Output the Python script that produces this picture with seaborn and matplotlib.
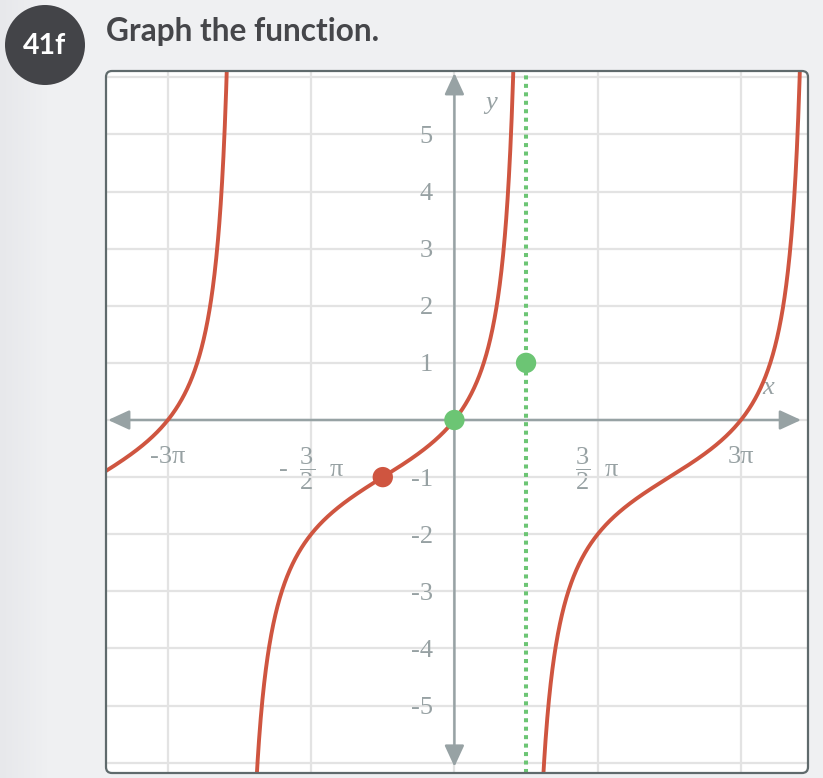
import numpy as np
import pandas as pd
import matplotlib
matplotlib.use("Agg")
import matplotlib.pyplot as plt
import seaborn as sns
from matplotlib.patches import FancyBboxPatch, Circle
from matplotlib.transforms import IdentityTransform
from matplotlib.ticker import FixedLocator, FixedFormatter

PI = np.pi

# ---- values ----
# graphed function: y = tan((x - center_x) / (period / pi)) + center_y
center_x = [-3 * PI / 4]
center_y = [-1]
period = [3 * PI]
branch_ids = [-1, 0, 1]
green_x = [0, 3 * PI / 4]
green_y = [0, 1]
asymptote_x = [3 * PI / 4]

x_major_ticks = [-3 * PI, -1.5 * PI, 0, 1.5 * PI, 3 * PI]
x_major_labels = ["-3π", r"-  $\dfrac{3}{2}$  π", "", r"$\dfrac{3}{2}$  π", "3π"]
x_minor_ticks = [k * 3 * PI / 8 for k in range(-8, 9) if k % 4 != 0]
y_major_ticks = [-5, -4, -3, -2, -1, 0, 1, 2, 3, 4, 5]
y_major_labels = ["-5", "-4", "-3", "-2", "-1", "", "1", "2", "3", "4", "5"]
y_minor_ticks = [-6, 6]
x_limits = (-11.46, 11.63)
y_limits = (-6.18, 6.11)

# ---- curve table built from the function above ----
rows = []
for k in branch_ids:
    lim = np.arctan(14.0)
    u = np.linspace(-lim, lim, 800) + k * PI
    xs = center_x[0] + (period[0] / PI) * u
    ys = np.tan(u) + center_y[0]
    rows.append(pd.DataFrame({"x": xs, "y": ys, "branch": k}))
curve = pd.concat(rows, ignore_index=True)

# ---- style ----
sns.set_style("white")
plt.rcParams["font.family"] = ["Liberation Serif", "DejaVu Serif"]
plt.rcParams["mathtext.fontset"] = "custom"
plt.rcParams["mathtext.rm"] = "Liberation Serif"
plt.rcParams["mathtext.it"] = "Liberation Serif:italic"
plt.rcParams["mathtext.bf"] = "Liberation Serif:bold"

BG = "#eff0f2"
AXIS_GRAY = "#97a2a4"
LABEL_GRAY = "#97a1a3"
GRID = "#e3e3e3"
RED = "#cf5540"
GREEN = "#6cc574"
FRAME = "#5f6a6c"

W, H = 823, 778
fig = plt.figure(figsize=(W / 100, H / 100), dpi=100, facecolor=BG)

# subtle left gradient strip
grad_w = 48
g = np.linspace(0.0, 1.0, grad_w)
c0 = np.array([231, 232, 235]) / 255.0
c1 = np.array([239, 240, 242]) / 255.0
strip = (c0[None, :] * (1 - g[:, None]) + c1[None, :] * g[:, None])
strip = np.tile(strip[None, :, :], (H, 1, 1))
fig.figimage(strip, xo=0, yo=0, zorder=-3)

# plot panel background (rounded)
left_px, top_px, right_px, bottom_px = 106, 71, 808, 773
panel_bg = FancyBboxPatch((left_px, H - bottom_px), right_px - left_px, bottom_px - top_px,
                          boxstyle="round,pad=0,rounding_size=6", transform=IdentityTransform(),
                          facecolor="white", edgecolor="none", zorder=-1)
fig.add_artist(panel_bg)

ax = fig.add_axes([left_px / W, 1 - bottom_px / H, (right_px - left_px) / W, (bottom_px - top_px) / H])
ax.patch.set_visible(False)
ax.set_xlim(*x_limits)
ax.set_ylim(*y_limits)

# curve
sns.lineplot(data=curve, x="x", y="y", units="branch", estimator=None, sort=False,
             color=RED, lw=2.8, ax=ax, zorder=4, legend=False)

# asymptote (dotted green)
for xa in asymptote_x:
    ax.axvline(xa, color=GREEN, lw=2.9, ls=(0, (1, 1.1)), dash_capstyle="butt", zorder=3.5)

# points
sns.scatterplot(x=center_x, y=center_y, s=215, color=RED, edgecolor="none", ax=ax, zorder=6)
sns.scatterplot(x=green_x, y=green_y, s=215, color=GREEN, edgecolor="none", ax=ax, zorder=6)
ax.set_xlabel("")
ax.set_ylabel("")

# axes through origin
for side in ["top", "right"]:
    ax.spines[side].set_visible(False)
ax.spines["left"].set_position(("data", 0))
ax.spines["bottom"].set_position(("data", 0))
ax.spines["left"].set_linewidth(0)
ax.spines["bottom"].set_linewidth(0)

ax.xaxis.set_major_locator(FixedLocator(x_major_ticks))
ax.xaxis.set_major_formatter(FixedFormatter(x_major_labels))
ax.xaxis.set_minor_locator(FixedLocator(x_minor_ticks))
ax.yaxis.set_major_locator(FixedLocator(y_major_ticks))
ax.yaxis.set_major_formatter(FixedFormatter(y_major_labels))
ax.yaxis.set_minor_locator(FixedLocator(y_minor_ticks))

ax.tick_params(axis="x", which="major", direction="out", length=14.5, width=1.6,
               color=AXIS_GRAY, pad=4, labelsize=19, labelcolor=LABEL_GRAY)
ax.tick_params(axis="x", which="minor", direction="out", length=8, width=1.6, color=AXIS_GRAY)
ax.tick_params(axis="y", which="major", direction="out", length=14, width=1.3,
               color=AXIS_GRAY, pad=1.5, labelsize=19, labelcolor=LABEL_GRAY)
ax.tick_params(axis="y", which="minor", length=0)

ax.set_axisbelow(True)
ax.grid(axis="x", which="major", color=GRID, lw=1.6)
ax.grid(axis="y", which="both", color=GRID, lw=1.6)

# axis arrows
arrow_style = "<|-|>,head_length=0.87,head_width=0.4"
ax.annotate("", xy=(0, 0), xycoords=("axes fraction", "data"),
            xytext=(1, 0), textcoords=("axes fraction", "data"),
            arrowprops=dict(arrowstyle=arrow_style, mutation_scale=15, color=AXIS_GRAY,
                            lw=1.8, shrinkA=5, shrinkB=1.5),
            annotation_clip=False, zorder=3)
ax.annotate("", xy=(0, 1), xycoords=("data", "axes fraction"),
            xytext=(0, 0), textcoords=("data", "axes fraction"),
            arrowprops=dict(arrowstyle=arrow_style, mutation_scale=15, color=AXIS_GRAY,
                            lw=1.8, shrinkA=4.5, shrinkB=1.5),
            annotation_clip=False, zorder=3)

ax.text(0.943, 0.548, "x", transform=ax.transAxes, style="italic", fontsize=19,
        color=LABEL_GRAY, ha="center", va="center")
ax.text(0.548, 0.954, "y", transform=ax.transAxes, style="italic", fontsize=19,
        color=LABEL_GRAY, ha="center", va="center")

# panel border
frame = FancyBboxPatch((left_px, H - bottom_px), right_px - left_px, bottom_px - top_px,
                       boxstyle="round,pad=0,rounding_size=6", transform=IdentityTransform(),
                       facecolor="none", edgecolor=FRAME, lw=1.6, zorder=10)
fig.add_artist(frame)

# badge and title
badge = Circle((45, H - 45), 40, transform=IdentityTransform(), facecolor="#434448",
               edgecolor="none", zorder=2)
fig.add_artist(badge)
fig.text(45 / W, 1 - 46 / H, "41f", ha="center", va="center", fontsize=20.5,
         fontweight="bold", color="white", family=["Lato", "DejaVu Sans"], zorder=3)
fig.text(106 / W, 1 - 41 / H, "Graph the function.", ha="left", va="baseline", fontsize=22.8,
         fontweight="bold", color="#45464a", family=["Lato", "DejaVu Sans"])

fig.savefig("out.png", dpi=100, facecolor=BG)
